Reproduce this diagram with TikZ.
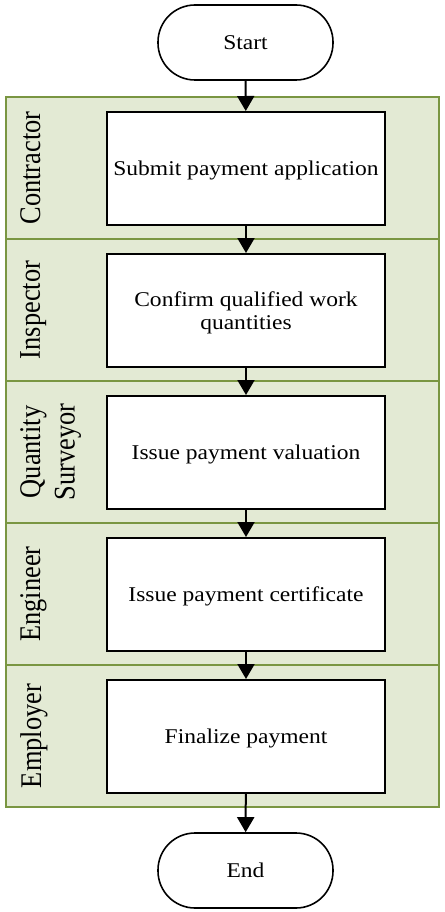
\documentclass[tikz,border=0pt]{standalone}
\usepackage{fontspec}
\setmainfont{Liberation Serif}[FakeStretch=1.12]
\newfontfamily\lanefont{Liberation Serif}[FakeStretch=0.88]
\usetikzlibrary{arrows.meta}
\definecolor{lanefill}{RGB}{227,234,212}
\definecolor{laneline}{RGB}{122,150,66}
\begin{document}
\begin{tikzpicture}[x=1pt,y=-1pt,
  lane/.style={draw=laneline, fill=lanefill, line width=2pt, minimum width=433pt, minimum height=142pt, inner sep=0pt},
  lanelabel/.style={rotate=90, anchor=north, inner sep=0pt, align=center, font=\lanefont\fontsize{30}{34.5}\selectfont},
  stepbox/.style={draw=black, fill=white, line width=2pt, minimum width=278pt, minimum height=113pt, inner sep=0pt, text depth=0pt, align=center, font=\fontsize{21}{23.5}\selectfont},
  term/.style={draw=black, fill=white, line width=1.6pt, minimum width=175pt, minimum height=75pt, rounded corners=37pt, inner sep=0pt, font=\fontsize{21}{23.5}\selectfont},
  arr/.style={line width=2pt, -{Triangle[width=17pt,length=15pt]}}]
\useasboundingbox (0,0) rectangle (444,912);
% lanes
\node[lane] (lane1) at (222.5,168) {};
\node[lane] (lane2) at (222.5,310) {};
\node[lane] (lane3) at (222.5,452) {};
\node[lane] (lane4) at (222.5,594) {};
\node[lane] (lane5) at (222.5,736) {};
% lane labels
\node[lanelabel] (lab1) at (20,168) {Contractor};
\node[lanelabel] (lab2) at (20,310) {Inspector};
\node[lanelabel] (lab3) at (20,452) {Quantity\\Surveyor};
\node[lanelabel] (lab4) at (20,594) {Engineer};
\node[lanelabel] (lab5) at (20,736) {Employer};
% terminals
\node[term] (start) at (245.5,42.5) {Start};
\node[term] (end) at (245.5,870.5) {End};
% steps
\node[stepbox] (b1) at (246,168.5) {Submit payment application};
\node[stepbox] (b2) at (246,310.5) {Confirm qualified work\\quantities};
\node[stepbox] (b3) at (246,452.5) {Issue payment valuation};
\node[stepbox] (b4) at (246,594.5) {Issue payment certificate};
\node[stepbox] (b5) at (246,736.5) {Finalize payment};
% connectors
\draw[arr] (start) -- (b1);
\draw[arr] (b1) -- (b2);
\draw[arr] (b2) -- (b3);
\draw[arr] (b3) -- (b4);
\draw[arr] (b4) -- (b5);
\draw[arr] (b5) -- (end);
\end{tikzpicture}
\end{document}
